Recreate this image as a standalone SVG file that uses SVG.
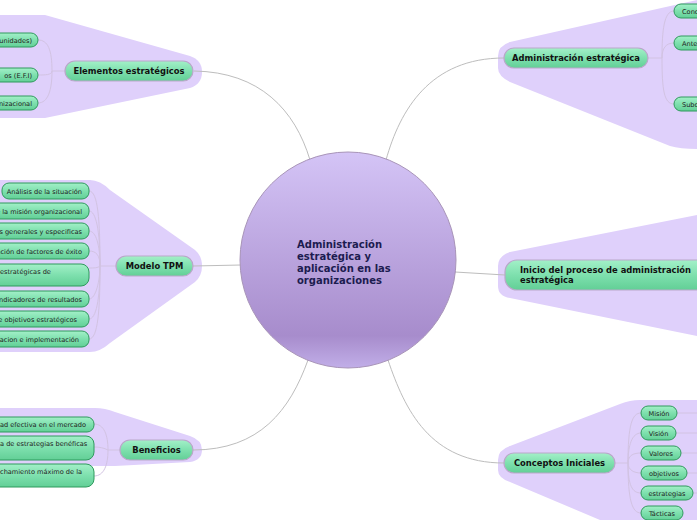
<svg xmlns="http://www.w3.org/2000/svg" width="697" height="520" viewBox="0 0 697 520">
<defs>
<linearGradient id="g" x1="0" y1="0" x2="0" y2="1"><stop offset="0" stop-color="#a3f0c8"/><stop offset="0.5" stop-color="#7ee0ae"/><stop offset="1" stop-color="#62cf96"/></linearGradient>
<linearGradient id="c" x1="0" y1="0" x2="0" y2="1"><stop offset="0" stop-color="#d4c4f6"/><stop offset="0.85" stop-color="#a78ccc"/><stop offset="1" stop-color="#c1aee8"/></linearGradient>
<style>
.blob{fill:#dfd0fb}
.m{fill:url(#g);stroke:#b9a7c9;stroke-width:1.2}
.s{fill:url(#g);stroke:#2f9a5d;stroke-width:1}
.mt{font-family:"DejaVu Sans",sans-serif;font-size:8.4px;font-weight:bold;fill:#111}
.st{font-family:"DejaVu Sans",sans-serif;font-size:6.6px;fill:#222}
.cn path{fill:none;stroke:#bdbdbd;stroke-width:1}
.cc path{fill:none;stroke:#d2c3e2;stroke-width:1}
</style>
</defs>
<g id="blobs">
<path class="blob" d="M0 15 H45 L190 56 Q202 60 202 72 Q202 84 190 88 L45 118 H0 Z"/>
<path class="blob" d="M0 180 H90 Q100 180 110 190 L195 250 Q202 256 202 266 Q202 276 195 282 L110 343 Q100 352 90 352 H0 Z"/>
<path class="blob" d="M0 408 H95 Q105 408 115 412 L190 436 Q202 440 202 450 Q202 460 190 462 L115 466 H0 Z"/>
<path class="blob" d="M697 0 L510 42 Q498 46 498 56 V68 Q498 76 510 82 L670 146 Q680 149 697 149 Z"/>
<path class="blob" d="M697 215 L510 252 Q498 256 498 266 V286 Q498 296 510 298 L697 336 Z"/>
<path class="blob" d="M697 400 H640 Q630 400 620 404 L510 446 Q498 450 498 460 V470 Q498 478 510 482 L600 520 H697 Z"/>
</g>
<g id="connectors" class="cn">
<path d="M310 160 C295 110 260 72 194 71"/>
<path d="M386 160 C400 110 430 58 504 58"/>
<path d="M241 265 L193 266"/>
<path d="M455 272 L505 275"/>
<path d="M308 360 C290 410 260 450 193 450"/>
<path d="M388 360 C405 410 430 463 504 463"/>
</g>
<g class="cc">
<path d="M65 71 H52 M52 71 C52 50 48 40 38 40 M52 71 C52 75 45 75 38 75 M52 71 C52 90 48 103 38 103"/>
<path d="M116 266 H100 M100 266 C100 220 98 191 89 191 M100 266 C100 230 96 211 89 211 M100 266 C100 245 96 231 89 231 M100 266 C100 255 96 251 89 251 M100 266 C98 268 94 268 89 268 M100 266 C100 280 96 299 89 299 M100 266 C100 300 96 319 89 319 M100 266 C100 310 98 339 89 339"/>
<path d="M120 450 H108 M108 450 C108 435 104 424 94 424 M108 450 C104 448 100 447 94 447 M108 450 C108 465 104 476 94 476"/>
<path d="M648 58 H662 M662 58 C662 30 664 11 674 11 M662 58 C662 48 666 43 674 43 M662 58 C662 90 664 104 674 104"/>
<path d="M615 463 H628 M628 463 C628 425 632 413 641 413 M628 463 C628 445 632 433 641 433 M628 463 C628 455 634 453 641 453 M628 463 C628 470 634 473 641 473 M628 463 C628 485 632 493 641 493 M628 463 C628 500 632 513 641 513"/>
<path d="M677 413 H697 M676 433 H697 M681 453 H697 M687 473 H697 M693 493 H697"/>
</g>
<g id="center">
<circle cx="348" cy="260" r="108" fill="url(#c)" stroke="#a894b8" stroke-width="1"/>
<text font-family="DejaVu Sans,sans-serif" font-size="10px" font-weight="bold" fill="#1c1c50"><tspan x="297" y="248">Administración</tspan><tspan x="297" y="260">estratégica y</tspan><tspan x="297" y="272">aplicación en las</tspan><tspan x="297" y="284">organizaciones</tspan></text>
</g>
<g id="elementos">
<rect class="m" x="65" y="61" width="128" height="20" rx="10"/><text class="mt" x="129" y="74" text-anchor="middle">Elementos estratégicos</text>
<rect class="s" x="-10" y="33" width="48" height="14" rx="7"/><text class="st" x="32" y="42.5" text-anchor="end">unidades)</text>
<rect class="s" x="-10" y="68" width="48" height="14" rx="7"/><text class="st" x="32" y="77.5" text-anchor="end">os (E.F.I)</text>
<rect class="s" x="-10" y="96" width="48" height="14" rx="7"/><text class="st" x="32" y="105.5" text-anchor="end">nizacional</text>
</g>
<g id="modelo">
<rect class="m" x="116" y="256" width="77" height="20" rx="10"/><text class="mt" x="154.5" y="269" text-anchor="middle">Modelo TPM</text>
<rect class="s" x="2" y="183" width="87" height="16" rx="7"/><text class="st" x="82" y="193.5" text-anchor="end">Análisis de la situación</text>
<rect class="s" x="-10" y="203" width="99" height="16" rx="7"/><text class="st" x="82" y="213.5" text-anchor="end">e la misión organizacional</text>
<rect class="s" x="-10" y="223" width="99" height="16" rx="7"/><text class="st" x="82" y="233.5" text-anchor="end">s generales y especificas</text>
<rect class="s" x="-10" y="243" width="99" height="16" rx="7"/><text class="st" x="82" y="253.5" text-anchor="end">ación de factores de éxito</text>
<rect class="s" x="-10" y="264" width="99" height="22" rx="8"/><text class="st" x="0" y="273.5">estratégicas de</text>
<rect class="s" x="-10" y="291" width="99" height="16" rx="7"/><text class="st" x="82" y="301.5" text-anchor="end">ndicadores de resultados</text>
<rect class="s" x="-10" y="311" width="99" height="16" rx="7"/><text class="st" x="77" y="321.5" text-anchor="end">e objetivos estratégicos</text>
<rect class="s" x="-10" y="331" width="99" height="16" rx="7"/><text class="st" x="79" y="341.5" text-anchor="end">eacion e implementación</text>
</g>
<g id="beneficios">
<rect class="m" x="120" y="440" width="73" height="20" rx="10"/><text class="mt" x="156.5" y="453" text-anchor="middle">Beneficios</text>
<rect class="s" x="-10" y="417" width="104" height="15" rx="7"/><text class="st" x="86" y="427" text-anchor="end">dad efectiva en el mercado</text>
<rect class="s" x="-10" y="436" width="104" height="24" rx="8"/><text class="st" x="0" y="446">a de estrategias benéficas</text>
<rect class="s" x="-10" y="464" width="104" height="23" rx="8"/><text class="st" x="0" y="474">chamiento máximo de la</text>
</g>
<g id="admin">
<rect class="m" x="504" y="48" width="144" height="20" rx="10"/><text class="mt" x="576" y="61" text-anchor="middle">Administración estratégica</text>
<rect class="s" x="674" y="4" width="40" height="14" rx="7"/><text class="st" x="682" y="13.5">Conc</text>
<rect class="s" x="674" y="36" width="40" height="14" rx="7"/><text class="st" x="682" y="45.5">Ante</text>
<rect class="s" x="674" y="97" width="40" height="14" rx="7"/><text class="st" x="682" y="106.5">Subo</text>
</g>
<g id="inicio">
<rect class="m" x="505" y="260" width="210" height="30" rx="12"/><text class="mt"><tspan x="520" y="273">Inicio del proceso de administración</tspan><tspan x="520" y="283">estratégica</tspan></text>
</g>
<g id="conceptos">
<rect class="m" x="504" y="453" width="111" height="20" rx="10"/><text class="mt" x="559.5" y="466" text-anchor="middle">Conceptos Iniciales</text>
<rect class="s" x="641" y="406" width="36" height="14" rx="7"/><text class="st" x="659" y="415.5" text-anchor="middle">Misión</text>
<rect class="s" x="641" y="426" width="35" height="14" rx="7"/><text class="st" x="658.5" y="435.5" text-anchor="middle">Visión</text>
<rect class="s" x="641" y="446" width="40" height="14" rx="7"/><text class="st" x="661" y="455.5" text-anchor="middle">Valores</text>
<rect class="s" x="641" y="466" width="46" height="14" rx="7"/><text class="st" x="664" y="475.5" text-anchor="middle">objetivos</text>
<rect class="s" x="641" y="486" width="52" height="14" rx="7"/><text class="st" x="667" y="495.5" text-anchor="middle">estrategias</text>
<rect class="s" x="641" y="506" width="42" height="14" rx="7"/><text class="st" x="662" y="515.5" text-anchor="middle">Tácticas</text>
</g>
</svg>
